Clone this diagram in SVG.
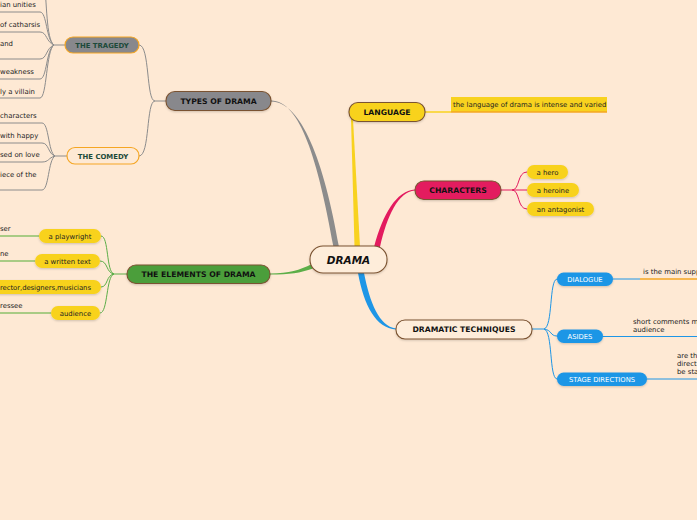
<svg xmlns="http://www.w3.org/2000/svg" width="697" height="520" viewBox="0 0 697 520">
<defs>
<filter id="sh" x="-20%" y="-40%" width="140%" height="180%">
<feDropShadow dx="0" dy="1" stdDeviation="1" flood-color="#000" flood-opacity="0.18"/>
</filter>
<style>
text{font-family:"DejaVu Sans","Verdana",sans-serif;}
.main{font-size:7.7px;font-weight:bold;fill:#111;text-anchor:middle;}
.sub{font-size:6.9px;font-weight:bold;fill:#1d4a3a;text-anchor:middle;}
.pill{font-size:6.9px;fill:#222;text-anchor:middle;}
.bpill{font-size:6.8px;fill:#fff;text-anchor:middle;}
.t{font-size:6.9px;fill:#222;}
.brn{stroke:#7a5230;stroke-width:1.1;}
.yel{fill:#f8d21f;}
.blu{fill:#1e96e6;}
.gl{fill:none;stroke:#8c8c8c;stroke-width:1;}
.gr{fill:none;stroke:#5cae48;stroke-width:1;}
.lg{fill:none;stroke:#8dc06a;stroke-width:1.3;}
.cr{fill:none;stroke:#e31b5f;stroke-width:1;}
.bl{fill:none;stroke:#1e96e6;stroke-width:1;}
</style>
</defs>
<rect width="697" height="520" fill="#fee9d4"/>

<g id="connectors">
<path d="M271,100.5 C300,100.5 318,160 333.5,247 L339,247 C324,160 301,101.5 271,101.5 Z" fill="#8c8c8c"/>
<path d="M351,119 L353,119 L360,247 L354.5,247 Z" fill="#f8d21f"/>
<path d="M415,189.5 C396,191 383,214 374,247 L380,247 C387,216 398,192 415,190.5 Z" fill="#e31b5f"/>
<path d="M358,273 C364,306 376,328 396,329.5 L396,328.5 C379,326 370,303 364,273 Z" fill="#1e96e6"/>
<path d="M270,273.5 C290,273.5 299,270 312,264 L313,268.5 C300,273 290,274.5 270,274.5 Z" fill="#5cae48"/>
<path d="M425,112 H451" fill="none" stroke="#f8d21f" stroke-width="1.5"/>

<path class="gl" d="M166,101 H155 C146,101 150,45 139,45"/>
<path class="gl" d="M155,101 C146,101 150,156 139,156"/>
<path class="gl" d="M65,45 H54"/>
<path class="gl" d="M44,-20 C47,0 46,40 54,45"/>
<path class="gl" d="M0,12 H40 C47,12 46,40 54,45"/>
<path class="gl" d="M0,32 H40 C47,32 46,42 54,45"/>
<path class="gl" d="M0,59 H40 C47,59 46,48 54,45"/>
<path class="gl" d="M0,79 H40 C47,79 46,50 54,45"/>
<path class="gl" d="M0,98 H40 C47,98 46,50 54,45"/>
<path class="gl" d="M67,156 H55"/>
<path class="gl" d="M0,123 H42 C49,123 48,152 55,156"/>
<path class="gl" d="M0,143 H42 C49,143 48,154 55,156"/>
<path class="gl" d="M0,162 H42 C49,162 48,158 55,156"/>
<path class="gl" d="M0,190 H42 C49,190 48,160 55,156"/>
<path class="gr" d="M127,274 H114"/>
<path class="gr" d="M101,236 C109,236 106,272 114,274"/>
<path class="gr" d="M100,261 C108,261 106,273 114,274"/>
<path class="gr" d="M101,287 C108,287 106,275 114,274"/>
<path class="gr" d="M100,313 C108,313 106,276 114,274"/>
<path class="lg" d="M0,236 H39"/>
<path class="lg" d="M0,261 H35"/>
<path class="lg" d="M0,313 H51"/>
<path class="cr" d="M501,190 H512"/>
<path class="cr" d="M512,190 C520,190 517,172 527,172"/>
<path class="cr" d="M512,190 H527"/>
<path class="cr" d="M512,190 C520,190 517,209 527,209"/>
<path class="bl" d="M532,329 H544"/>
<path class="bl" d="M544,329 C553,327 549,280 557,279"/>
<path class="bl" d="M544,329 C552,330 550,336 557,336"/>
<path class="bl" d="M544,329 C553,331 549,378 557,379"/>
<path class="bl" d="M613,279 H640"/>
<path d="M640,279 H697" fill="none" stroke="#f5a623" stroke-width="1.3"/>
<path class="bl" d="M603,336.5 H697"/>
<path class="bl" d="M647,379 H697"/>
</g>

<g id="drama">
<rect x="310" y="246" width="77" height="27" rx="13" fill="#feedda" class="brn" filter="url(#sh)"/>
<text x="348.5" y="263.8" style="font-size:10.5px;font-weight:bold;font-style:italic;fill:#111;text-anchor:middle">DRAMA</text>
</g>

<g id="types-of-drama">
<rect x="166" y="91.5" width="105" height="19" rx="9" fill="#88888c" class="brn" filter="url(#sh)"/>
<text class="main" x="218.5" y="103.8">TYPES OF DRAMA</text>
</g>

<g id="the-tragedy">
<rect x="65" y="37" width="74" height="16" rx="8" fill="#88888c" stroke="#f5a623" stroke-width="1.2"/>
<text class="sub" x="102" y="47.5">THE TRAGEDY</text>
</g>
<g id="tragedy-items">
<text class="t" x="0" y="7">ian unities</text>
<text class="t" x="0" y="26.5">of catharsis</text>
<text class="t" x="0" y="45.5">and</text>
<text class="t" x="0" y="73.5">weakness</text>
<text class="t" x="0" y="93.5">ly a villain</text>
</g>

<g id="the-comedy">
<rect x="67" y="147.5" width="72" height="16.5" rx="8" fill="#fee9d4" stroke="#f5a623" stroke-width="1.2"/>
<text class="sub" x="103" y="158.5">THE COMEDY</text>
</g>
<g id="comedy-items">
<text class="t" x="0" y="117.5">characters</text>
<text class="t" x="0" y="137.5">with happy</text>
<text class="t" x="0" y="156.5">sed on love</text>
<text class="t" x="0" y="176.5">iece of the</text>
</g>

<g id="language">
<rect x="349" y="102.5" width="76" height="19" rx="9" class="yel brn" filter="url(#sh)"/>
<text class="main" x="387" y="114.8">LANGUAGE</text>
</g>
<g id="language-note">
<rect x="451" y="97" width="156" height="15" class="yel"/>
<path d="M451,112 H607" stroke="#f5a623" stroke-width="1.5" fill="none"/>
<text class="t" x="453" y="106.5">the language of drama is intense and varied</text>
</g>

<g id="characters">
<rect x="415" y="181" width="86" height="18.5" rx="9" fill="#e31b5f" class="brn" filter="url(#sh)"/>
<text class="main" x="458" y="193">CHARACTERS</text>
</g>
<g id="a-hero"><rect x="527" y="165" width="41" height="14" rx="7" class="yel" filter="url(#sh)"/><text class="pill" x="547.5" y="174.5">a hero</text></g>
<g id="a-heroine"><rect x="527" y="183" width="52" height="14" rx="7" class="yel" filter="url(#sh)"/><text class="pill" x="553" y="192.5">a heroine</text></g>
<g id="an-antagonist"><rect x="527" y="202" width="67" height="14" rx="7" class="yel" filter="url(#sh)"/><text class="pill" x="560.5" y="211.5">an antagonist</text></g>

<g id="dramatic-techniques">
<rect x="396" y="320" width="136" height="19" rx="9" fill="#feedda" class="brn" filter="url(#sh)"/>
<text class="main" x="464" y="332.3">DRAMATIC TECHNIQUES</text>
</g>
<g id="dialogue"><rect x="557" y="272.5" width="56" height="13.5" rx="6.7" class="blu" filter="url(#sh)"/><text class="bpill" x="585" y="281.8">DIALOGUE</text></g>
<g id="asides"><rect x="557" y="329.5" width="46" height="13.5" rx="6.7" class="blu" filter="url(#sh)"/><text class="bpill" x="580" y="338.8">ASIDES</text></g>
<g id="stage-directions"><rect x="557" y="372.5" width="90" height="13.5" rx="6.7" class="blu" filter="url(#sh)"/><text class="bpill" x="602" y="381.8">STAGE DIRECTIONS</text></g>
<g id="technique-notes">
<text class="t" x="643" y="274">is the main supp</text>
<text class="t" x="633" y="323.5">short comments m</text>
<text class="t" x="633" y="331.5">audience</text>
<text class="t" x="677" y="357.5">are th</text>
<text class="t" x="677" y="365.5">direct</text>
<text class="t" x="677" y="374">be sta</text>
</g>

<g id="the-elements-of-drama">
<rect x="127" y="265" width="143" height="18.5" rx="9" fill="#4c9e3a" class="brn" filter="url(#sh)"/>
<text class="main" x="198.5" y="277">THE ELEMENTS OF DRAMA</text>
</g>
<g id="a-playwright"><rect x="39" y="229" width="62" height="14" rx="7" class="yel" filter="url(#sh)"/><text class="pill" x="70" y="238.5">a playwright</text></g>
<g id="a-written-text"><rect x="35" y="254" width="65" height="14" rx="7" class="yel" filter="url(#sh)"/><text class="pill" x="67.5" y="263.5">a written text</text></g>
<g id="staff"><rect x="-40" y="280" width="141" height="14" rx="7" class="yel" filter="url(#sh)"/><text class="t" x="91" y="289.5" style="text-anchor:end" textLength="91" lengthAdjust="spacing">rector,designers,musicians</text></g>
<g id="audience"><rect x="51" y="306" width="49" height="14" rx="7" class="yel" filter="url(#sh)"/><text class="pill" x="75.5" y="315.5">audience</text></g>
<g id="element-notes">
<text class="t" x="0" y="230.5">ser</text>
<text class="t" x="0" y="256">ne</text>
<text class="t" x="0" y="308">ressee</text>
</g>
</svg>
